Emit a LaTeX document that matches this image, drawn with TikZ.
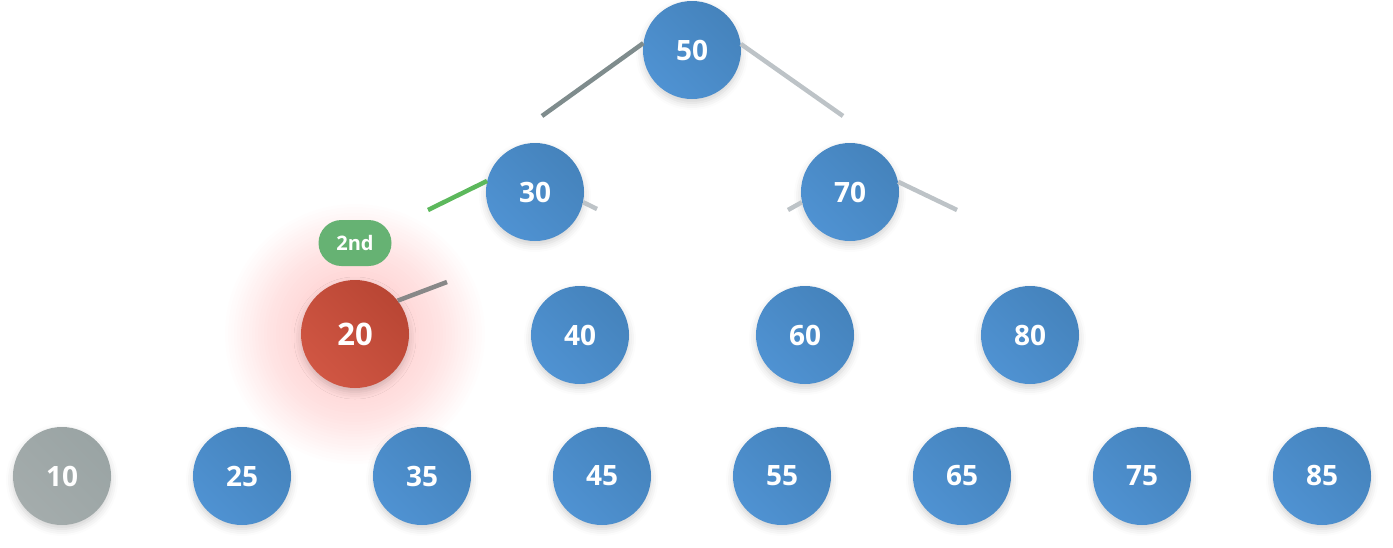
\documentclass[tikz,border=0pt]{standalone}
\usepackage{fontspec}
\setmainfont{Open Sans}
\usepackage{xcolor}
\usepackage{tikz}
\usetikzlibrary{positioning}
\usetikzlibrary{shadows.blur}
\definecolor{keytop}{HTML}{4583BC}
\definecolor{keybot}{HTML}{4F92D2}
\definecolor{donetop}{HTML}{9AA4A4}
\definecolor{donebot}{HTML}{A4ACAC}
\definecolor{hottop}{HTML}{B94634}
\definecolor{hotbot}{HTML}{D05643}
\definecolor{linkdark}{HTML}{7F8C8D}
\definecolor{linklight}{HTML}{BDC3C7}
\definecolor{linkgreen}{HTML}{5CB85C}
\definecolor{linkgray}{HTML}{888888}
\definecolor{badgegreen}{HTML}{66B273}
\tikzstyle{key}     = [circle, minimum size=98pt, inner sep=0pt, text=white, font=\bfseries\fontsize{28}{32}\selectfont, top color=keytop, bottom color=keybot, shading angle=-45, blur shadow={shadow xshift=0pt, shadow yshift=-4pt, shadow blur radius=7pt, shadow opacity=18}]
\tikzstyle{done}    = [key, top color=donetop, bottom color=donebot, shading angle=-45]
\tikzstyle{current} = [key, minimum size=108pt, font=\bfseries\fontsize{31}{35}\selectfont, top color=hottop, bottom color=hotbot, shading angle=-45]
\tikzstyle{badge}   = [rectangle, rounded corners=23pt, fill=badgegreen, minimum width=73pt, minimum height=46pt, text=white, font=\bfseries\fontsize{20}{24}\selectfont]
\tikzstyle{link}    = [draw, line width=4.5pt, linklight]

\begin{document}
\begin{tikzpicture}[x=1pt, y=-1pt, node distance=180pt]
	\useasboundingbox (0,0) rectangle (1393,547);
	% glow behind the current key
	\coordinate (glow) at (355,334);
	\foreach \r in {130,127,...,56}
		\fill[red!60, opacity=0.011] (glow) circle (\r pt);
	% keys
	\node [key] (k50) at (692,50) {50};
	\node [key] (k30) at (535,192) {30};
	\node [key] (k70) at (850,192) {70};
	\node [current] (k20) at (glow) {20};
	\node [key] (k40) at (580,335) {40};
	\node [key] (k60) at (805,335) {60};
	\node [key] (k80) at (1030,335) {80};
	\node [done] (k10) at (62,476) {10};
	\node [key, right of=k10] (k25) {25};
	\node [key, right of=k25] (k35) {35};
	\node [key, right of=k35] (k45) {45};
	\node [key, right of=k45] (k55) {55};
	\node [key, right of=k55] (k65) {65};
	\node [key, right of=k65] (k75) {75};
	\node [key, right of=k75] (k85) {85};
	\node [badge, above of=k20, node distance=91pt] (rank) {2nd};
	% links
	\coordinate (l50a) at (542,116);
	\coordinate (l50b) at (843,116);
	\coordinate (l30a) at (428,210);
	\coordinate (l30b) at (597,209);
	\coordinate (l70a) at (788,210);
	\coordinate (l70b) at (957,210);
	\coordinate (l20b) at (447,282);
	\path [link, linkdark] (k50.172) -- (l50a);
	\path [link] (k50.7) -- (l50b);
	\path [link, linkgreen] (k30.167) -- (l30a);
	\path [link] (k30.-12) -- (l30b);
	\path [link] (k70.192) -- (l70a);
	\path [link] (k70.12) -- (l70b);
	\path [link, linkgray] (k20.38) -- (l20b);
\end{tikzpicture}
\end{document}
